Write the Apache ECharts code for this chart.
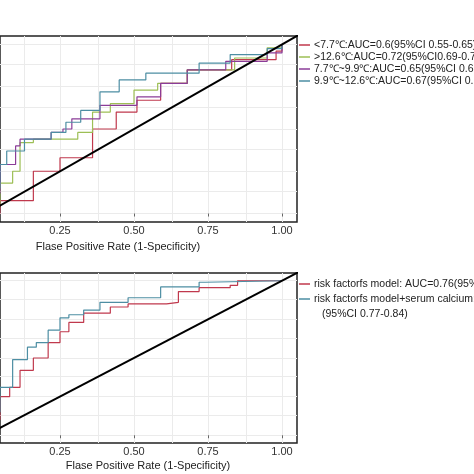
<!DOCTYPE html>
<html>
<head>
<meta charset="utf-8">
<script src="https://cdn.jsdelivr.net/npm/echarts@6/dist/echarts.min.js"></script>
<style>html,body{margin:0;padding:0;background:#fff}#c{width:474px;height:474px}</style>
</head>
<body>
<div id="c"></div>
<script>
// tick labels and grid positions
var tickValues = [0.25, 0.5, 0.75, 1.0]
var gridValues = [0, 0.125, 0.25, 0.375, 0.5, 0.625, 0.75, 0.875, 1.0]
var diag = [[-0.05, -0.05], [1.1, 1.1]]

// top panel: [fpr, tpr]
var topRed = [[0,0],[0.047,0.076],[0.16,0.25],[0.25,0.33],[0.36,0.50],[0.44,0.60],[0.51,0.67],[0.59,0.77],[0.68,0.85],[0.83,0.91],[0.98,0.96],[1,1]]
var topGreen = [[0,0.05],[0.047,0.18],[0.09,0.25],[0.115,0.42],[0.16,0.44],[0.26,0.44],[0.31,0.48],[0.36,0.60],[0.42,0.65],[0.50,0.73],[0.58,0.77],[0.68,0.85],[0.84,0.92],[0.95,0.98],[1,1]]
var topPurple = [[0,0.12],[0.047,0.29],[0.10,0.40],[0.115,0.44],[0.22,0.48],[0.26,0.50],[0.29,0.56],[0.385,0.64],[0.51,0.69],[0.59,0.77],[0.68,0.85],[0.81,0.90],[0.95,0.95],[1,1]]
var topTeal = [[0,0.15],[0.047,0.29],[0.07,0.37],[0.13,0.44],[0.22,0.48],[0.27,0.54],[0.32,0.61],[0.385,0.72],[0.45,0.79],[0.54,0.83],[0.72,0.89],[0.825,0.94],[0.95,0.975],[1,1]]
var topNames = ['<7.7℃:AUC=0.6(95%CI 0.55-0.65)', '>12.6℃:AUC=0.72(95%CI0.69-0.76)', '7.7℃~9.9℃:AUC=0.65(95%CI 0.61-0.69)', '9.9℃~12.6℃:AUC=0.67(95%CI 0.63-0.71)']

// bottom panel
var botRed = [[0,0.1],[0.047,0.25],[0.08,0.31],[0.115,0.42],[0.16,0.50],[0.21,0.60],[0.25,0.67],[0.28,0.73],[0.33,0.79],[0.42,0.83],[0.48,0.85],[0.61,0.86],[0.65,0.93],[0.72,0.955],[0.825,0.97],[0.85,1],[1,1]]
var botTeal = [[0,0.15],[0.047,0.31],[0.09,0.49],[0.14,0.57],[0.17,0.60],[0.21,0.68],[0.25,0.76],[0.28,0.78],[0.33,0.81],[0.385,0.86],[0.48,0.89],[0.59,0.96],[0.72,0.99],[0.74,1],[1,1]]
var botNames = ['risk factorfs model: AUC=0.76(95%CI 0.72-0.80)', 'risk factorfs model+serum calcium: AUC=0.80', '(95%CI 0.77-0.84)']

var cRed = '#c0394d', cGreen = '#9dbf55', cPurple = '#8b3c98', cTeal = '#4d8ea3'

// the panels are cut off on the left: x=0 px is fpr ~0.047
var xMin = 0.0473, xMax = 1.0507

function axisX(idx) {
  return {
    type: 'value', gridIndex: idx, min: xMin, max: xMax,
    axisLine: { show: false },
    axisTick: { show: true, customValues: tickValues, length: 3, lineStyle: { color: '#666' } },
    axisLabel: { customValues: tickValues, color: '#333', fontSize: 11, margin: 3, fontFamily: 'Liberation Sans',
      formatter: function (v) { return v.toFixed(2) } },
    splitLine: { show: false }
  }
}
function axisY(idx) {
  return { type: 'value', gridIndex: idx, min: -0.05, max: 1.05,
    axisLine: { show: false }, axisTick: { show: false }, axisLabel: { show: false }, splitLine: { show: false } }
}
function roc(data, color, idx) {
  return { type: 'line', step: 'end', xAxisIndex: idx, yAxisIndex: idx, data: data,
    symbol: 'none', lineStyle: { color: color, width: 1.2 }, z: 3 }
}
function gridLines(idx) {
  var md = []
  gridValues.forEach(function (v) { md.push({ xAxis: v }); md.push({ yAxis: v }) })
  return { type: 'line', xAxisIndex: idx, yAxisIndex: idx, data: [], silent: true, z: 0,
    markLine: { symbol: 'none', silent: true, z: 0, label: { show: false },
      lineStyle: { color: '#ebebeb', type: 'solid', width: 1 }, data: md } }
}
function diagLine(idx) {
  return { type: 'line', xAxisIndex: idx, yAxisIndex: idx, data: diag, symbol: 'none',
    lineStyle: { color: '#000', width: 2 }, z: 6 }
}
function legendItems(names, colors, y0, gap, extra) {
  var g = []
  names.forEach(function (n, i) {
    var y = y0 + i * gap
    if (colors[i]) {
      g.push({ type: 'line', shape: { x1: 299, y1: y, x2: 310, y2: y }, style: { stroke: colors[i], lineWidth: 1.5 } })
      g.push({ type: 'text', x: 314, y: y, style: { text: n, fill: '#222', fontSize: 10.5, fontFamily: 'Liberation Sans', verticalAlign: 'middle' } })
    } else {
      g.push({ type: 'text', x: extra, y: y, style: { text: n, fill: '#222', fontSize: 10.5, fontFamily: 'Liberation Sans', verticalAlign: 'middle' } })
    }
  })
  return g
}

var graphic = []
  .concat(legendItems(topNames, [cRed, cGreen, cPurple, cTeal], 45, 12))
  .concat(legendItems(botNames, [cRed, cTeal, null], 284, 15, 322))
graphic.push({ type: 'text', x: 118, y: 247, style: { text: 'Flase Positive Rate (1-Specificity)', fill: '#222', fontSize: 11, fontFamily: 'Liberation Sans', align: 'center', verticalAlign: 'middle' } })
graphic.push({ type: 'text', x: 148, y: 466, style: { text: 'Flase Positive Rate (1-Specificity)', fill: '#222', fontSize: 11, fontFamily: 'Liberation Sans', align: 'center', verticalAlign: 'middle' } })

var option = {
  animation: false,
  grid: [
    { left: 0, top: 36, width: 297, height: 186, show: true, borderColor: '#222', borderWidth: 1.5, backgroundColor: 'transparent' },
    { left: 0, top: 273, width: 297, height: 170, show: true, borderColor: '#222', borderWidth: 1.5, backgroundColor: 'transparent' }
  ],
  xAxis: [axisX(0), axisX(1)],
  yAxis: [axisY(0), axisY(1)],
  graphic: graphic,
  series: [
    gridLines(0), gridLines(1),
    roc(topRed, cRed, 0), roc(topGreen, cGreen, 0), roc(topPurple, cPurple, 0), roc(topTeal, cTeal, 0),
    diagLine(0),
    roc(botRed, cRed, 1), roc(botTeal, cTeal, 1),
    diagLine(1)
  ]
}
var chart = echarts.init(document.getElementById('c'))
chart.setOption(option)
</script>
</body>
</html>
